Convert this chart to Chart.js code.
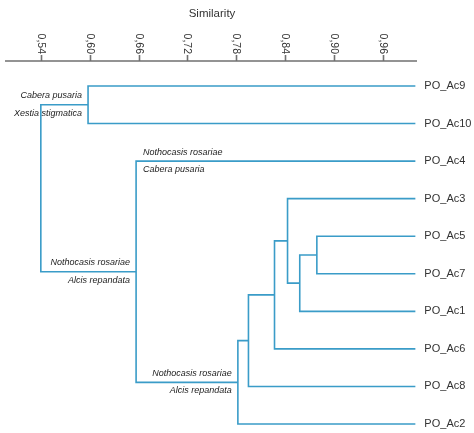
<!DOCTYPE html>
<html>
<head>
<meta charset="utf-8">
<script src="https://cdn.jsdelivr.net/npm/chart.js@4/dist/chart.umd.min.js"></script>
<style>
  html, body { margin: 0; padding: 0; background: #fff; }
  #wrap { width: 474px; height: 433px; }
</style>
</head>
<body>
<div id="wrap"><canvas id="dendro" width="474" height="433"></canvas></div>
<script>
// leaves, top to bottom
const leaves = ['PO_Ac9', 'PO_Ac10', 'PO_Ac4', 'PO_Ac3', 'PO_Ac5', 'PO_Ac7', 'PO_Ac1', 'PO_Ac6', 'PO_Ac8', 'PO_Ac2'];

// merges m0..m8: two children joined at a similarity level
const mergeA = ['PO_Ac5', 'm0', 'PO_Ac3', 'm2', 'm3', 'm4', 'PO_Ac4', 'PO_Ac9', 'm7'];
const mergeB = ['PO_Ac7', 'PO_Ac1', 'm1', 'PO_Ac6', 'PO_Ac8', 'PO_Ac2', 'm5', 'PO_Ac10', 'm6'];
const mergeSim = [0.879, 0.858, 0.843, 0.827, 0.795, 0.782, 0.657, 0.598, 0.540];

// axis
const tickValues = [0.54, 0.60, 0.66, 0.72, 0.78, 0.84, 0.90, 0.96];
const tickLabels = ['0,54', '0,60', '0,66', '0,72', '0,78', '0,84', '0,90', '0,96'];

// species notes on branches (text above / below the branch)
const noteBranch = ['m7', 'PO_Ac4', 'm6', 'm5'];
const noteAbove = ['Cabera pusaria', 'Nothocasis rosariae', 'Nothocasis rosariae', 'Nothocasis rosariae'];
const noteBelow = ['Xestia stigmatica', 'Cabera pusaria', 'Alcis repandata', 'Alcis repandata'];

const LINE = '#3a9cc8';
const TEXT = '#333333';
const FONT = "'Liberation Sans', Arial, sans-serif";

// node positions: x = similarity, y = leaf order
const nodes = {};
leaves.forEach((name, i) => { nodes[name] = { x: 1.0, y: i, parent: null }; });
mergeSim.forEach((s, i) => {
    const a = nodes[mergeA[i]], b = nodes[mergeB[i]];
    nodes['m' + i] = { x: s, y: (a.y + b.y) / 2, parent: null };
    a.parent = 'm' + i;
    b.parent = 'm' + i;
});

// one elbow per merge
const datasets = mergeSim.map((s, i) => {
    const a = nodes[mergeA[i]], b = nodes[mergeB[i]];
    return {
        data: [{ x: a.x, y: a.y }, { x: s, y: a.y }, { x: s, y: b.y }, { x: b.x, y: b.y }],
        showLine: true,
        borderColor: LINE,
        borderWidth: 1.6,
        pointRadius: 0,
        tension: 0,
        clip: false
    };
});

const overlay = {
    id: 'overlay',
    afterDraw(chart) {
        const ctx = chart.ctx;
        const xs = chart.scales.x, ys = chart.scales.y;
        const axisY = 61;
        ctx.save();

        // axis line + ticks
        ctx.strokeStyle = '#707070';
        ctx.lineWidth = 1.6;
        ctx.beginPath();
        ctx.moveTo(5, axisY);
        ctx.lineTo(417, axisY);
        tickValues.forEach(v => {
            const px = Math.round(xs.getPixelForValue(v)) + 0.5;
            ctx.moveTo(px, axisY);
            ctx.lineTo(px, axisY - 6);
        });
        ctx.stroke();

        // tick labels, rotated clockwise
        ctx.fillStyle = TEXT;
        ctx.font = '10.5px ' + FONT;
        ctx.textAlign = 'right';
        ctx.textBaseline = 'middle';
        tickValues.forEach((v, i) => {
            const px = xs.getPixelForValue(v);
            ctx.save();
            ctx.translate(px, axisY - 7);
            ctx.rotate(Math.PI / 2);
            ctx.fillText(tickLabels[i], 0, 0);
            ctx.restore();
        });

        // title
        ctx.font = '11.5px ' + FONT;
        ctx.textAlign = 'center';
        ctx.textBaseline = 'middle';
        ctx.fillText('Similarity', 212, 14);

        // leaf labels
        ctx.font = '11px ' + FONT;
        ctx.textAlign = 'left';
        leaves.forEach((name, i) => {
            ctx.fillText(name, xs.getPixelForValue(1.0) + 9, ys.getPixelForValue(i));
        });

        // species notes
        ctx.font = 'italic 9px ' + FONT;
        ctx.fillStyle = '#222';
        noteBranch.forEach((b, i) => {
            const n = nodes[b];
            const py = ys.getPixelForValue(n.y);
            let px;
            if (b.startsWith('PO')) {
                ctx.textAlign = 'left';
                px = xs.getPixelForValue(nodes[n.parent].x) + 7;
            } else {
                ctx.textAlign = 'right';
                px = xs.getPixelForValue(n.x) - 6;
            }
            ctx.fillText(noteAbove[i], px, py - 9);
            ctx.fillText(noteBelow[i], px, py + 8.5);
        });
        ctx.restore();
    }
};

new Chart(document.getElementById('dendro'), {
    type: 'scatter',
    data: { datasets: datasets },
    options: {
        responsive: false,
        animation: false,
        layout: { padding: { left: 5, right: 57, top: 86, bottom: 9 } },
        plugins: { legend: { display: false }, tooltip: { enabled: false } },
        scales: {
            x: { type: 'linear', min: 0.496, max: 1.002, display: false },
            y: { type: 'linear', min: 0, max: 9, reverse: true, display: false }
        }
    },
    plugins: [overlay]
});
</script>
</body>
</html>
